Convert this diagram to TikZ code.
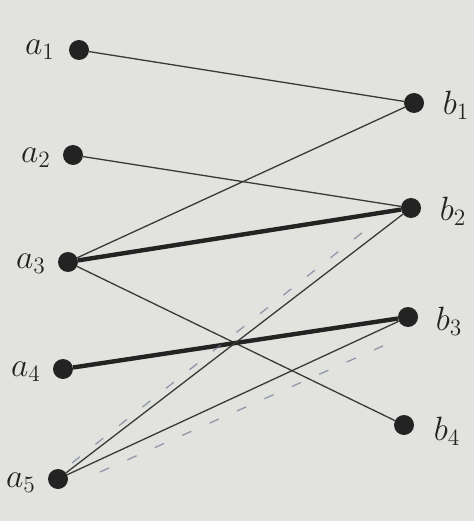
\documentclass[tikz,border=0pt]{standalone}
\usepackage{tikz}
\definecolor{bg}{RGB}{226,226,223}
\definecolor{ink}{RGB}{35,35,35}
\definecolor{pencil}{RGB}{110,120,145}
\begin{document}
\begin{tikzpicture}[x=1pt,y=-1pt,
  vtx/.style={circle,fill=ink,inner sep=0pt,minimum size=20pt},
  lbl/.style={inner sep=0pt,text=ink,font=\LARGE,scale=1.95},
  thinedge/.style={draw=ink!90,line width=1.3pt},
  thickedge/.style={draw=ink,line width=4.4pt},
  pencilmark/.style={draw=pencil,line width=1.3pt,dash pattern=on 10pt off 20pt,opacity=0.7}]
\fill[bg] (0,0) rectangle (474,521);
\useasboundingbox (0,0) rectangle (474,521);
\node[vtx] (a1) at (79,50) {};
\node[vtx] (a2) at (73,155) {};
\node[vtx] (a3) at (68,262) {};
\node[vtx] (a4) at (63,369) {};
\node[vtx] (a5) at (58,479) {};
\node[vtx] (b1) at (414,103) {};
\node[vtx] (b2) at (411,208) {};
\node[vtx] (b3) at (408,317) {};
\node[vtx] (b4) at (404,425) {};
\node[lbl] (la1) at (40,50) {$a_1$};
\node[lbl] (la2) at (36,158) {$a_2$};
\node[lbl] (la3) at (31,264) {$a_3$};
\node[lbl] (la4) at (26,372) {$a_4$};
\node[lbl] (la5) at (21,483) {$a_5$};
\node[lbl] (lb1) at (456,105) {$b_1$};
\node[lbl] (lb2) at (453,211) {$b_2$};
\node[lbl] (lb3) at (449,321) {$b_3$};
\node[lbl] (lb4) at (447,431) {$b_4$};
\draw[thinedge] (a1) -- (b1);
\draw[thinedge] (a2) -- (b2);
\draw[thinedge] (a3) -- (b1);
\draw[thickedge] (a3) -- (b2);
\draw[thinedge] (a3) -- (b4);
\draw[thickedge] (a4) -- (b3);
\draw[thinedge] (a5) -- (b2);
\draw[thinedge] (a5) -- (b3);
\coordinate (p1) at (72,463);
\coordinate (p2) at (368,228);
\coordinate (q1) at (100,472);
\coordinate (q2) at (385,345);
\draw[pencilmark] (p1) -- (p2);
\draw[pencilmark] (q1) -- (q2);
\end{tikzpicture}
\end{document}
